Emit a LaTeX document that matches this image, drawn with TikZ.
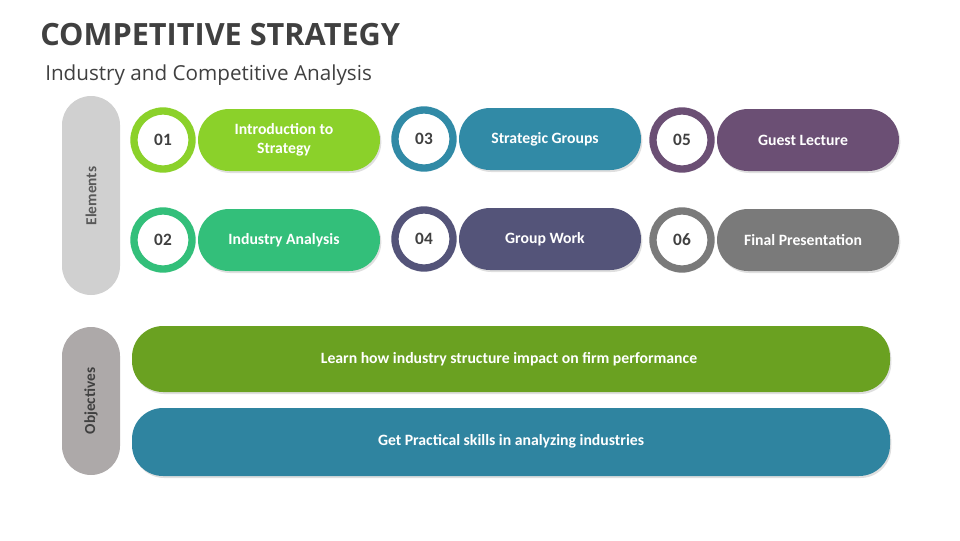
\documentclass[tikz,border=0pt]{standalone}
\usepackage{fontspec}
\setmainfont{Carlito}
\newfontfamily\osans{Open Sans}
\usetikzlibrary{shadows}
\definecolor{cg1}{HTML}{8BD12A}\definecolor{cg2}{HTML}{33BF7A}
\definecolor{cb3}{HTML}{318AA6}\definecolor{cp4}{HTML}{545479}
\definecolor{cp5}{HTML}{6B4F74}\definecolor{cg6}{HTML}{7A7A7A}
\definecolor{og}{HTML}{6AA121}\definecolor{ob}{HTML}{2F84A0}
\definecolor{dark}{HTML}{404040}
\tikzset{
 pill/.style={rounded corners=31*0.75pt, draw=none, drop shadow={opacity=0.25,shadow xshift=1pt,shadow yshift=-1.5pt}},
 ring/.style={circle, fill=white, line width=5.5pt, minimum size=58*0.75pt, inner sep=0pt, font=\bfseries\fontsize{13}{13}\selectfont, text=dark},
 lbl/.style={text=white, font=\bfseries\fontsize{11.8}{14}\selectfont, align=center},
}
\begin{document}
\begin{tikzpicture}[x=0.75pt,y=-0.75pt]
\useasboundingbox (0,0) rectangle (960,540);
\node[anchor=base west, inner sep=0, text=dark, font=\osans\bfseries\fontsize{23}{23}\selectfont] (title) at (40,45) {COMPETITIVE STRATEGY};
\node[anchor=base west, inner sep=0, text=dark, font=\osans\fontsize{15.5}{15.5}\selectfont] (sub) at (45,80) {Industry and Competitive Analysis};
% side pills
\fill[rounded corners=29*0.75pt, color={rgb,255:red,208;green,208;blue,208}] (62,96) rectangle (120,295);
\node[rotate=90, text={rgb,255:red,89;green,89;blue,89}, font=\bfseries\fontsize{11.5}{11.5}\selectfont] (el) at (91,196) {Elements};
\fill[rounded corners=29*0.75pt, color={rgb,255:red,173;green,169;blue,169}] (62,327) rectangle (120,475);
\node[rotate=90, text=dark, font=\bfseries\fontsize{11.5}{11.5}\selectfont] (ob) at (91,401) {Objectives};
% items
\foreach \n/\cx/\cy/\col/\t in {01/163/140/cg1/{Introduction to\\Strategy}, 03/424/139/cb3/{Strategic Groups}, 05/682/140/cp5/{Guest Lecture}, 02/163/240/cg2/{Industry Analysis}, 04/424/239/cp4/{Group Work}, 06/682/240/cg6/{Final Presentation}}{
 \fill[pill, fill=\col] (\cx+35,\cy-31) rectangle (\cx+217,\cy+31);
 \node[lbl] (t\n) at (\cx+121,\cy) {\t};
 \node[ring, draw=\col] (c\n) at (\cx,\cy) {\n};
}
\fill[pill, fill=og] (132,326) rectangle (890,392);
\node[lbl] (o1) at (509,359) {Learn how industry structure impact on firm performance};
\fill[pill, fill=ob] (132,408) rectangle (890,476);
\node[lbl] (o2) at (511,441) {Get Practical skills in analyzing industries};
\end{tikzpicture}
\end{document}
